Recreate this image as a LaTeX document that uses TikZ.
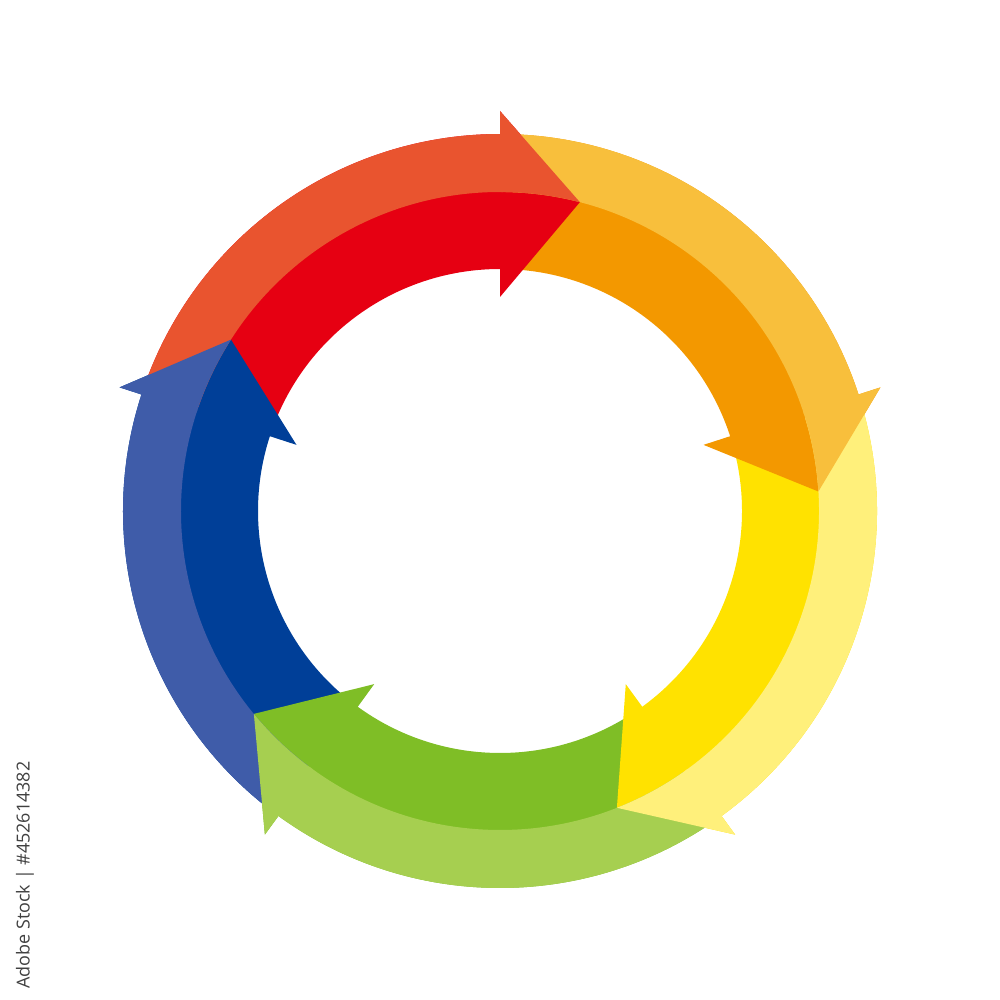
\documentclass[tikz,border=0pt]{standalone}
\usepackage{fontspec}
\setmainfont{Open Sans}
\definecolor{redlight}{HTML}{E9542F}
\definecolor{reddark}{HTML}{E60012}
\definecolor{orangelight}{HTML}{F8BF3C}
\definecolor{orangedark}{HTML}{F39800}
\definecolor{yellowlight}{HTML}{FFF07B}
\definecolor{yellowdark}{HTML}{FFE200}
\definecolor{greenlight}{HTML}{A6CF50}
\definecolor{greendark}{HTML}{7FBE26}
\definecolor{bluelight}{HTML}{3F5CA9}
\definecolor{bluedark}{HTML}{003F98}
\begin{document}
\begin{tikzpicture}[x=0.01cm, y=0.01cm, shift={(500,489)}]
\useasboundingbox (-500,-489) rectangle (500,511);
% dark bands
\fill[reddark] (161:242) arc[start angle=161, end angle=89.5, radius=242] -- (89.5:377) arc[start angle=89.5, end angle=161, radius=377] -- cycle;
\fill[orangedark] (89:242) arc[start angle=89, end angle=17.5, radius=242] -- (17.5:377) arc[start angle=17.5, end angle=89, radius=377] -- cycle;
\fill[yellowdark] (17:242) arc[start angle=17, end angle=-54.5, radius=242] -- (-54.5:377) arc[start angle=-54.5, end angle=17, radius=377] -- cycle;
\fill[greendark] (-55:242) arc[start angle=-55, end angle=-126.5, radius=242] -- (-126.5:377) arc[start angle=-126.5, end angle=-55, radius=377] -- cycle;
\fill[bluedark] (-127:242) arc[start angle=-127, end angle=-198.5, radius=242] -- (-198.5:377) arc[start angle=-198.5, end angle=-127, radius=377] -- cycle;
% dark arrow heads
\fill[reddark] (90:400) -- (75.5:319) -- (90:214) -- cycle;
\fill[orangedark] (18:400) -- (3.5:319) -- (18:214) -- cycle;
\fill[yellowdark] (-54:400) -- (-68.5:319) -- (-54:214) -- cycle;
\fill[greendark] (-126:400) -- (-140.5:319) -- (-126:214) -- cycle;
\fill[bluedark] (162:400) -- (147.5:319) -- (162:214) -- cycle;
% light bands
\fill[redlight] (161:319) arc[start angle=161, end angle=89.5, radius=319] -- (89.5:377) arc[start angle=89.5, end angle=161, radius=377] -- cycle;
\fill[orangelight] (89:319) arc[start angle=89, end angle=17.5, radius=319] -- (17.5:377) arc[start angle=17.5, end angle=89, radius=377] -- cycle;
\fill[yellowlight] (17:319) arc[start angle=17, end angle=-54.5, radius=319] -- (-54.5:377) arc[start angle=-54.5, end angle=17, radius=377] -- cycle;
\fill[greenlight] (-55:319) arc[start angle=-55, end angle=-126.5, radius=319] -- (-126.5:377) arc[start angle=-126.5, end angle=-55, radius=377] -- cycle;
\fill[bluelight] (-127:319) arc[start angle=-127, end angle=-198.5, radius=319] -- (-198.5:377) arc[start angle=-198.5, end angle=-127, radius=377] -- cycle;
% light arrow heads
\fill[redlight] (90:400) -- (75.5:319) arc[start angle=75.5, end angle=90, radius=319] -- cycle;
\fill[orangelight] (18:400) -- (3.5:319) arc[start angle=3.5, end angle=18, radius=319] -- cycle;
\fill[yellowlight] (-54:400) -- (-68.5:319) arc[start angle=-68.5, end angle=-54, radius=319] -- cycle;
\fill[greenlight] (-126:400) -- (-140.5:319) arc[start angle=-140.5, end angle=-126, radius=319] -- cycle;
\fill[bluelight] (162:400) -- (147.5:319) arc[start angle=147.5, end angle=162, radius=319] -- cycle;
\node[rotate=90, text=black!75, font=\fontsize{5.1}{6}\selectfont, inner sep=0pt] (stockid) at (-475,-364) {Adobe Stock | \#452614382};
\end{tikzpicture}
\end{document}
